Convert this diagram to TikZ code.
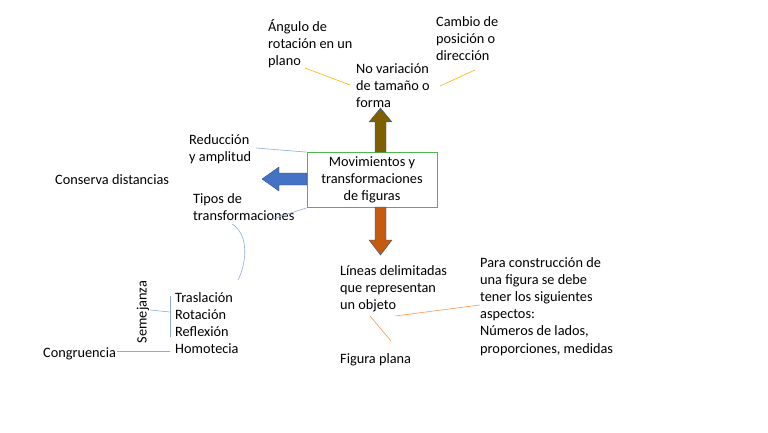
\documentclass[tikz,border=0pt]{standalone}
\usepackage{fontspec}
\setmainfont{Carlito}
\definecolor{brn}{HTML}{7F6000}
\definecolor{blu}{HTML}{4472C4}
\definecolor{org}{HTML}{C55A11}
\begin{document}
\begin{tikzpicture}[x=1pt,y=-1pt,
  t/.style={anchor=north west,align=left,inner sep=0pt,font=\fontsize{14.3}{17.2}\selectfont},
  bl/.style={draw=blu!60,line width=0.6pt},
  yl/.style={draw=orange!60!yellow,line width=0.6pt},
  ol/.style={draw=orange!80!red!70,line width=0.6pt}]
\useasboundingbox (0,0) rectangle (768,433);
\node[draw=green!60!black!70,line width=0.8pt,minimum width=130pt,minimum height=55pt,align=center,inner sep=2pt,font=\fontsize{14.3}{17.2}\selectfont] (m) at (372,180) {Movimientos y\\transformaciones\\de figuras};
\fill[fill=brn,draw=blu!80!black,line width=0.4pt] (375,152)--(375,122)--(369,122)--(380.5,108)--(392,122)--(386,122)--(386,152)--cycle;
\fill[fill=blu,draw=blu!70!black,line width=0.4pt] (307,173)--(279,173)--(279,167)--(262,179)--(279,191)--(279,185)--(307,185)--cycle;
\fill[fill=org,draw=blu!70!black,line width=0.4pt] (375,207)--(375,240)--(369,240)--(380.5,255)--(392,240)--(386,240)--(386,207)--cycle;
\node[t] (ang) at (268,19) {Ángulo de\\rotación en un\\plano};
\node[t] (cam) at (436,16) {Cambio de\\posición o\\dirección};
\node[t] (nov) at (356,63) {No variación\\de tamaño o\\forma};
\node[t] (red) at (189,134) {Reducción\\y amplitud};
\node[t] (con) at (55,174) {Conserva distancias};
\node[t] (tip) at (193,193) {Tipos de\\transformaciones};
\node[t,anchor=center,rotate=90] (sem) at (143,312) {Semejanza};
\node[t] (lst) at (175,292) {Traslación\\Rotación\\Reflexión\\Homotecia};
\node[t] (cong) at (43,347) {Congruencia};
\node[t] (lin) at (340,265) {Líneas delimitadas\\que representan\\un objeto};
\node[t] (fig) at (340,353) {Figura plana};
\node[t] (para) at (480,257) {Para construcción de\\una figura se debe\\tener los siguientes\\aspectos:\\Números de lados,\\proporciones, medidas};
\coordinate (a1) at (305,68); \coordinate (a2) at (350,85);
\coordinate (c1) at (475,70); \coordinate (c2) at (440,86);
\draw[yl] (a1)--(a2); \draw[yl] (c1)--(c2);
\draw[bl] (256,148)--(m.north west);
\draw[bl] (m.south west)--(272,219);
\draw[bl] (232,224) .. controls (250,235) and (246,265) .. (238,280);
\draw[bl] (170,296)--(170,337);
\draw[bl] (150,310)--(170,312);
\draw[bl] (117,351)--(170,351);
\draw[ol] (395,316)--(480,305);
\draw[ol] (370,316)--(391,341);
\end{tikzpicture}
\end{document}
